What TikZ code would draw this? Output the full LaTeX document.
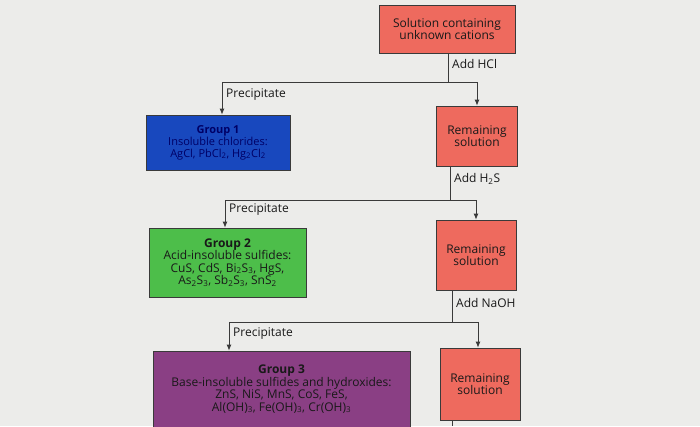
\documentclass[tikz,border=0pt]{standalone}
\usetikzlibrary{arrows.meta}
\usepackage{fontspec}
\setmainfont{Open Sans}
\definecolor{bg}{HTML}{ECECEA}
\definecolor{sal}{HTML}{EE6A5E}
\definecolor{blu}{HTML}{1848BE}
\definecolor{grn}{HTML}{4DBE4A}
\definecolor{pur}{HTML}{8A3F84}
\definecolor{ln}{HTML}{3A3A3A}
\newcommand{\sbs}[1]{\textsubscript{#1}}
\begin{document}
\begin{tikzpicture}[x=1pt,y=-1pt,
  box/.style={draw=ln,line width=0.8pt,inner sep=0pt,align=center,font=\fontsize{12}{12.5}\selectfont,text=black!90},
  lab/.style={anchor=west,font=\fontsize{12}{13}\selectfont,text=black!90,inner sep=1pt},
  ar/.style={draw=ln,line width=0.8pt,-{Latex[length=6pt,width=5pt]}},
  li/.style={draw=ln,line width=0.8pt}]
\useasboundingbox (0,0) rectangle (700,426);
\fill[bg] (0,0) rectangle (700,426);
\node[box,fill=sal,minimum width=136pt,minimum height=48pt] (top) at (447,29) {Solution containing\\unknown cations};
\node[box,fill=blu,minimum width=144pt,minimum height=55pt,text=blue!40!black,font=\fontsize{11}{12}\selectfont] (g1) at (218,142.5) {\textbf{Group 1}\\Insoluble chlorides:\\AgCl, PbCl\sbs{2}, Hg\sbs{2}Cl\sbs{2}};
\node[box,fill=sal,minimum width=81pt,minimum height=60pt] (r1) at (477,136) {Remaining\\solution};
\node[box,fill=grn,minimum width=157pt,minimum height=69pt] (g2) at (227.5,262.5) {\textbf{Group 2}\\Acid-insoluble sulfides:\\CuS, CdS, Bi\sbs{2}S\sbs{3}, HgS,\\As\sbs{2}S\sbs{3}, Sb\sbs{2}S\sbs{3}, SnS\sbs{2}};
\node[box,fill=sal,minimum width=80pt,minimum height=70pt] (r2) at (476,255) {Remaining\\solution};
\node[box,fill=pur,minimum width=257pt,minimum height=76pt] (g3) at (281.5,389) {\textbf{Group 3}\\Base-insoluble sulfides and hydroxides:\\ZnS, NiS, MnS, CoS, FeS,\\Al(OH)\sbs{3}, Fe(OH)\sbs{3}, Cr(OH)\sbs{3}};
\node[box,fill=sal,minimum width=80pt,minimum height=72pt] (r3) at (480,384) {Remaining\\solution};
\coordinate (a1) at (448,82); \coordinate (a2) at (450,200); \coordinate (a3) at (452,322);
\coordinate (e) at (452,426);
\draw[li] (top.south -| a1) -- (a1);
\draw[li] (222,82) -- (477,82);
\draw[ar] (222,82) -- (g1.north -| 222,82);
\draw[ar] (477,82) -- (r1.north);
\draw[li] (r1.south -| a2) -- (a2);
\draw[li] (225,200) -- (476,200);
\draw[ar] (225,200) -- (g2.north -| 225,200);
\draw[ar] (476,200) -- (r2.north);
\draw[li] (r2.south -| a3) -- (a3);
\draw[li] (229,322) -- (478,322);
\draw[ar] (229,322) -- (g3.north -| 229,322);
\draw[ar] (478,322) -- (r3.north -| 478,322);
\draw[li] (r3.south -| e) -- (e);
\node[lab] (l1) at (451,64) {Add HCl};
\node[lab] (l2) at (453,179) {Add H\sbs{2}S};
\node[lab] (l3) at (455,303) {Add NaOH};
\node[lab] (p1) at (225,95) {Precipitate};
\node[lab] (p2) at (228,210) {Precipitate};
\node[lab] (p3) at (232,334) {Precipitate};
\end{tikzpicture}
\end{document}
